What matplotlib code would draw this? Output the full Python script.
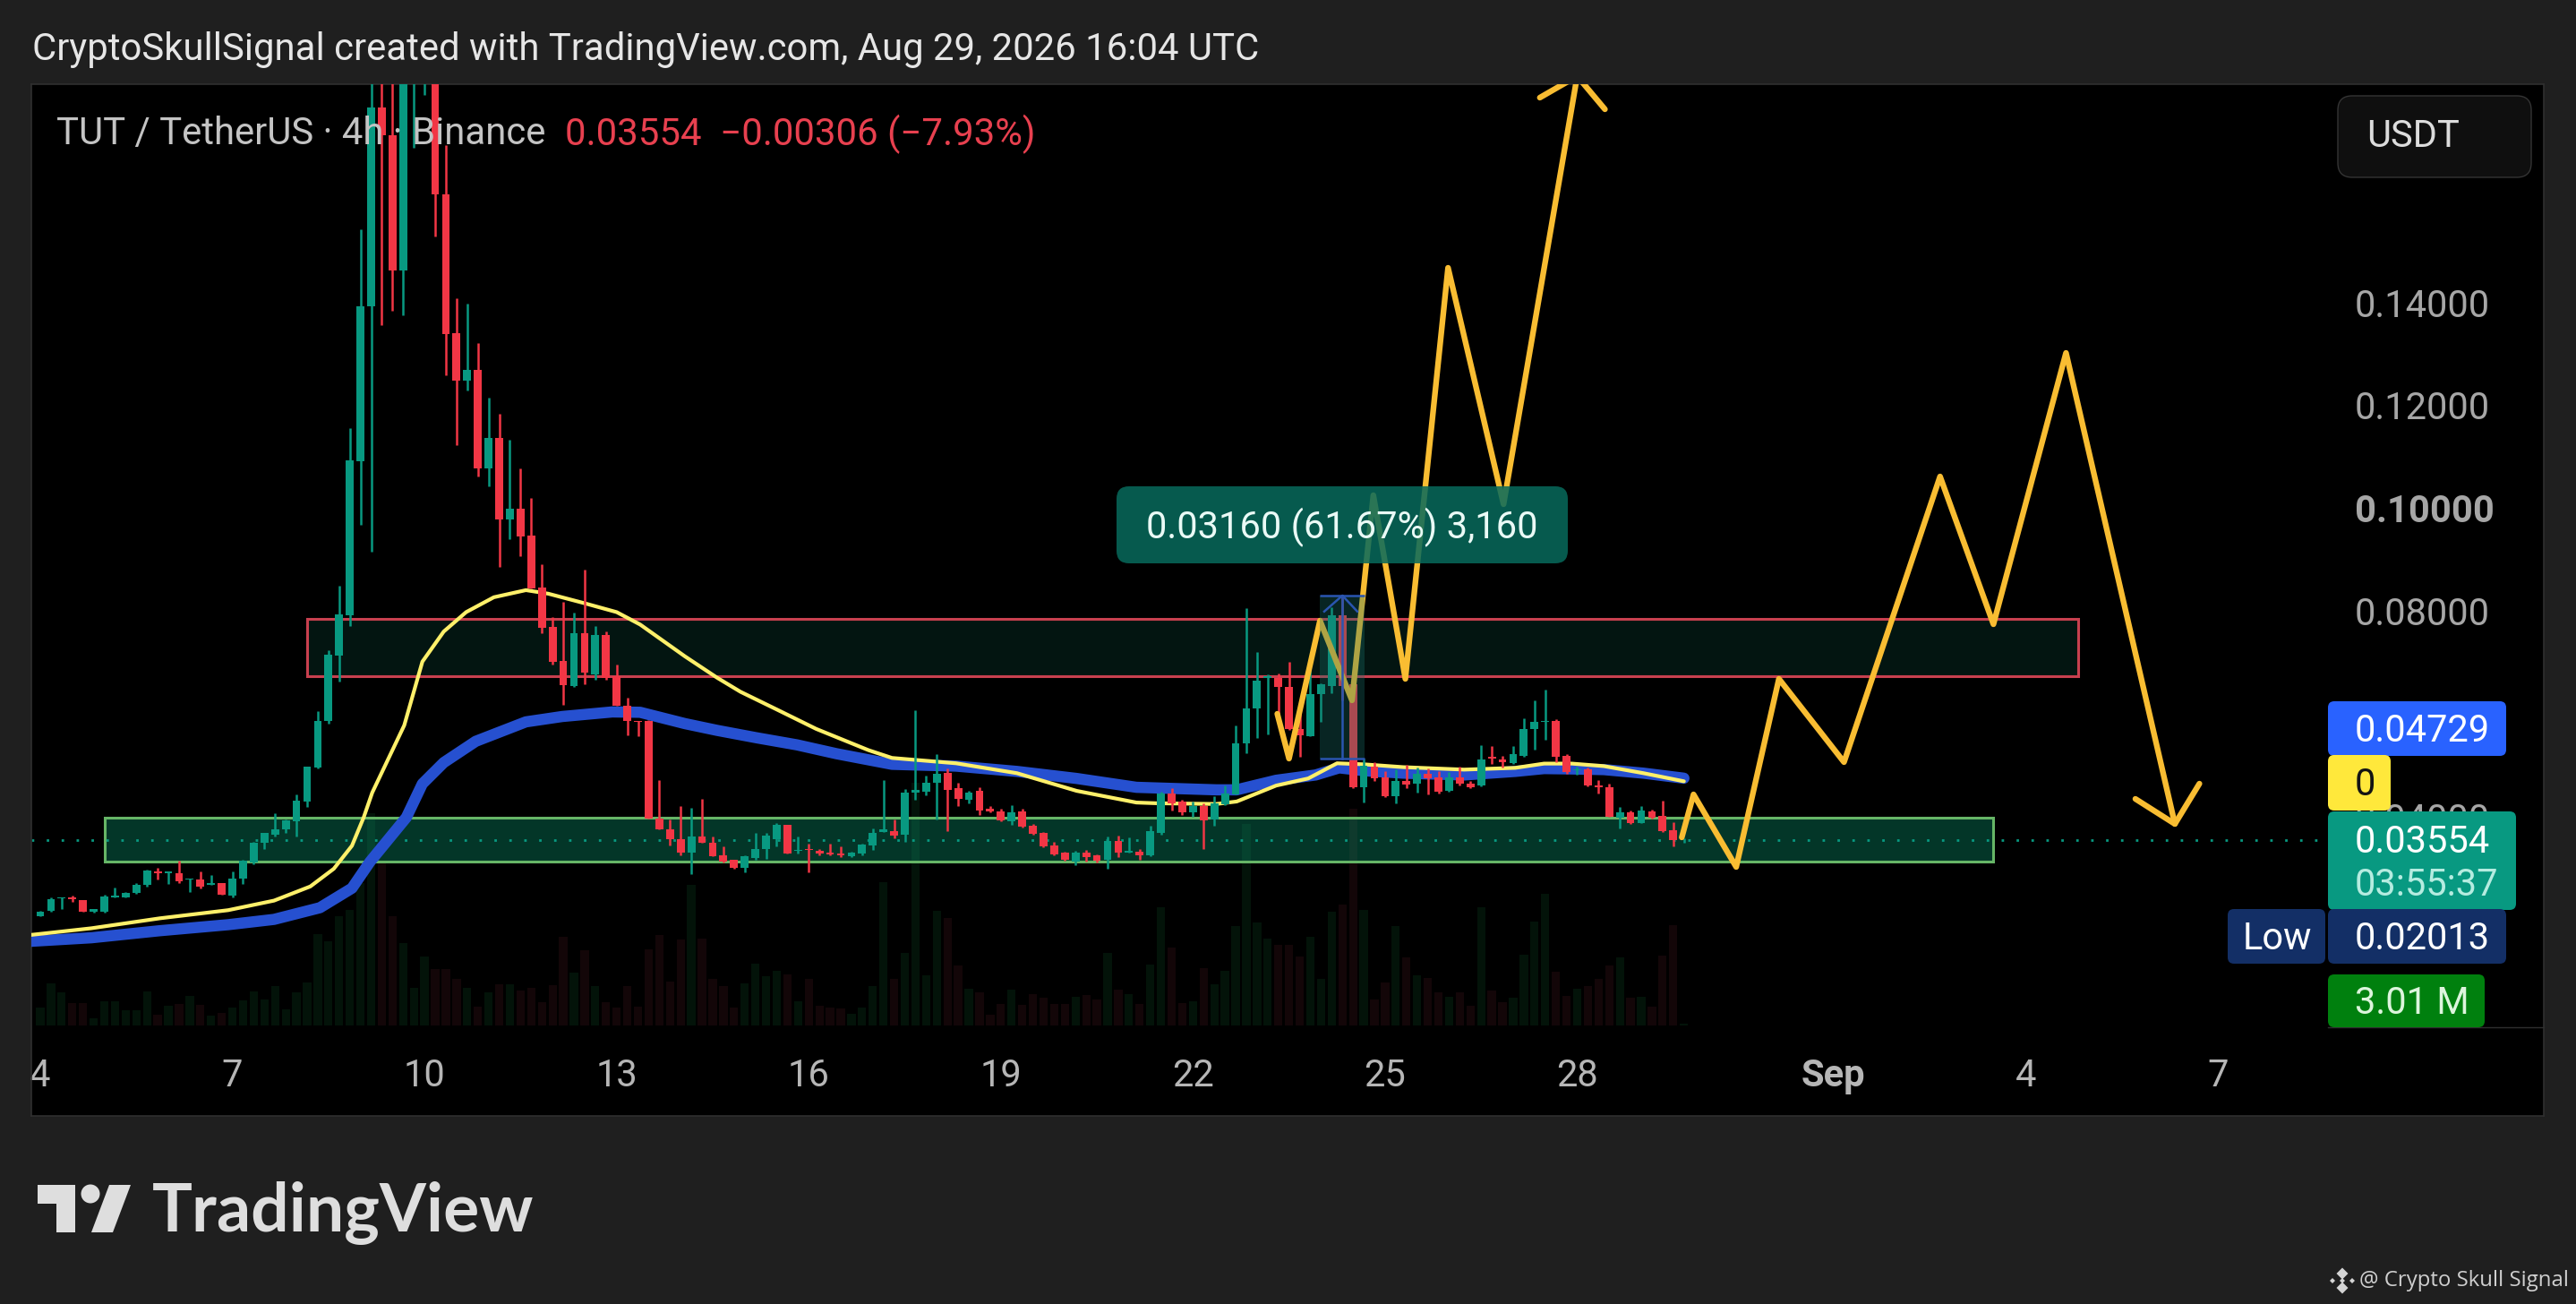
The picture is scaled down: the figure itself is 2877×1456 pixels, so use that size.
import matplotlib

matplotlib.use("Agg")
import matplotlib.pyplot as plt
from matplotlib.patches import Circle, FancyBboxPatch, Polygon, Rectangle
from matplotlib.transforms import Affine2D

plt.rcParams["font.family"] = ["Roboto", "DejaVu Sans"]

WIDTH, HEIGHT = 2877, 1456

opens = [
    .0206, .0218, .0241, .0243, .0238, .0216, .0216, .0243, .0244, .0252,
    .0267, .0294, .0290, .0291, .0278, .0278, .0268, .0271, .0247, .0280,
    .0311, .0349, .0366, .0375, .0392, .0430, .0495, .0587, .0713, .0791,
    .1091, .1392, .1778, .1725, .1461, .1850, .1860, .1900, .1610, .1340,
    .1248, .1268, .1077, .1136, .0978, .0998, .0947, .0846, .0769, .0703,
    .0655, .0757, .0677, .0753, .0673, .0616, .0586, .0586, .0397, .0375,
    .0356, .0330, .0361, .0349, .0325, .0316, .0301, .0320, .0337, .0356,
    .0384, .0333, .0338, .0333, .0330, .0329, .0323, .0328, .0344, .0371,
    .0373, .0366, .0447, .0448, .0466, .0485, .0455, .0433, .0450, .0416,
    .0411, .0392, .0411, .0382, .0368, .0344, .0330, .0313, .0330, .0325,
    .0316, .0353, .0331, .0332, .0325, .0368, .0446, .0429, .0409, .0421,
    .0395, .0425, .0444, .0542, .0611, .0670, .0669, .0652, .0571, .0557,
    .0638, .0655, .0791, .0657, .0457, .0497, .0476, .0440, .0469, .0464,
    .0483, .0477, .0450, .0476, .0465, .0461, .0517, .0511, .0504, .0519,
    .0570, .0585, .0587, .0519, .0490, .0492, .0461, .0457, .0399, .0409,
    .0388, .0411, .0401, .0374, .03540,
]
highs = [
    .0218, .0244, .0243, .0247, .0238, .0220, .0249, .0263, .0254, .0271,
    .0298, .0301, .0294, .0315, .0280, .0294, .0287, .0271, .0294, .0316,
    .0352, .0368, .0407, .0395, .0443, .0497, .0605, .0724, .0849, .1155,
    .1542, .1900, .1900, .1900, .1900, .1950, .2000, .2000, .1706, .1408,
    .1397, .1321, .1214, .1183, .1133, .1077, .1020, .0891, .0788, .0817,
    .0796, .0881, .0770, .0760, .0696, .0631, .0586, .0588, .0471, .0395,
    .0421, .0417, .0435, .0361, .0342, .0316, .0326, .0368, .0368, .0388,
    .0384, .0361, .0347, .0337, .0347, .0342, .0332, .0347, .0377, .0471,
    .0395, .0454, .0607, .0480, .0521, .0494, .0466, .0450, .0457, .0421,
    .0416, .0423, .0416, .0386, .0371, .0351, .0332, .0333, .0335, .0327,
    .0361, .0364, .0360, .0337, .0382, .0449, .0455, .0433, .0430, .0426,
    .0440, .0461, .0578, .0806, .0720, .0676, .0679, .0701, .0609, .0714,
    .0660, .0808, .0832, .0660, .0513, .0506, .0488, .0492, .0501, .0495,
    .0494, .0488, .0487, .0497, .0469, .0540, .0537, .0518, .0537, .0592,
    .0627, .0648, .0589, .0522, .0497, .0495, .0471, .0464, .0419, .0412,
    .0421, .0414, .0431, .0389, .0358,
]
lows = [
    .0206, .0216, .0220, .0234, .0216, .0213, .0214, .0243, .0243, .0251,
    .0265, .0278, .0269, .0271, .0254, .0261, .0268, .0249, .0244, .0269,
    .0308, .0337, .0361, .0368, .0361, .0419, .0494, .0581, .0662, .0770,
    .0967, .0916, .1355, .1384, .1375, .1700, .1803, .1528, .1259, .1122,
    .1228, .1061, .1042, .0886, .0939, .0906, .0843, .0757, .0696, .0618,
    .0653, .0657, .0667, .0666, .0615, .0558, .0556, .0397, .0375, .0345,
    .0326, .0289, .0349, .0323, .0311, .0299, .0292, .0316, .0318, .0342,
    .0329, .0329, .0292, .0325, .0325, .0322, .0322, .0325, .0336, .0371,
    .0359, .0351, .0433, .0441, .0394, .0373, .0421, .0426, .0404, .0409,
    .0392, .0385, .0379, .0366, .0340, .0325, .0315, .0306, .0313, .0312,
    .0299, .0321, .0331, .0316, .0323, .0365, .0413, .0404, .0400, .0337,
    .0382, .0423, .0444, .0524, .0554, .0560, .0588, .0568, .0517, .0556,
    .0585, .0640, .0626, .0455, .0428, .0469, .0439, .0426, .0456, .0447,
    .0443, .0446, .0448, .0461, .0456, .0459, .0502, .0495, .0502, .0517,
    .0530, .0550, .0507, .0484, .0481, .0459, .0446, .0400, .0377, .0386,
    .0387, .0397, .0371, .0342, .0350,
]
closes = [
    .0216, .0239, .0243, .0239, .0216, .0220, .0245, .0246, .0252, .0268,
    .0296, .0290, .0294, .0274, .0280, .0265, .0271, .0249, .0280, .0315,
    .0349, .0368, .0376, .0393, .0432, .0497, .0587, .0715, .0793, .1093,
    .1392, .1778, .1725, .1461, .1900, .1900, .1950, .1610, .1338, .1248,
    .1268, .1077, .1136, .0978, .0999, .0945, .0843, .0767, .0702, .0656,
    .0757, .0680, .0753, .0670, .0616, .0586, .0584, .0397, .0375, .0356,
    .0330, .0361, .0349, .0323, .0313, .0301, .0323, .0337, .0364, .0385,
    .0329, .0335, .0335, .0329, .0327, .0325, .0330, .0346, .0368, .0375,
    .0364, .0447, .0453, .0466, .0483, .0452, .0435, .0447, .0413, .0411,
    .0393, .0409, .0380, .0367, .0342, .0327, .0316, .0330, .0321, .0315,
    .0353, .0330, .0333, .0325, .0372, .0446, .0426, .0409, .0421, .0393,
    .0426, .0446, .0542, .0611, .0665, .0674, .0652, .0570, .0559, .0638,
    .0657, .0791, .0655, .0457, .0499, .0475, .0440, .0469, .0463, .0483,
    .0475, .0449, .0476, .0464, .0458, .0512, .0513, .0507, .0521, .0571,
    .0585, .0587, .0517, .0487, .0492, .0461, .0458, .0400, .0409, .0388,
    .0412, .0399, .0372, .0354, .03554,
]
# volume in millions
volumes = [
    25, 59, 46.5, 31.5, 31.5, 10, 34, 34, 21.5, 21.5,
    48, 15, 28, 30, 41.5, 29, 14, 17.5, 25, 35,
    47.5, 36.5, 55, 22.5, 46.5, 60, 128, 118, 153, 161.5,
    199, 296.5, 229, 153, 115, 53, 96.5, 79, 79, 65,
    53, 26.5, 46.5, 58, 58, 49, 53, 33, 56.5, 124,
    74, 105, 55, 33, 25, 55, 26.5, 106.5, 126.5, 61.5,
    120, 196.5, 121.5, 65, 55, 25, 59, 86.5, 69, 76.5,
    71.5, 34, 65, 28, 25, 24, 16.5, 25, 55, 200,
    65, 101.5, 339, 70, 160, 150, 84, 51.5, 46.5, 15,
    30, 50, 29, 44, 39, 30, 30, 40, 43, 36.5,
    101.5, 50, 44, 30, 85, 165, 109, 31.5, 34, 80,
    58, 76.5, 139, 281.5, 144, 121.5, 113, 113, 96.5, 124,
    65, 159, 169, 303, 161.5, 36.5, 60, 139, 95, 70,
    66.5, 46.5, 40, 46.5, 28, 165, 49, 33, 39, 99,
    145, 184, 75, 41.5, 51.5, 55, 65, 84, 95, 39,
    40, 26.5, 98, 140, 3,
]

slow_x = [
    -0.9, 4.8, 11.2, 17.6, 21.9, 26.2, 29.2, 30.9, 34.3, 35.8, 37.8, 40.8, 45.5, 48.9,
    53.6, 56.2, 60.4, 63.4, 67.1, 70.9, 74.6, 79.8, 85.8, 91.5, 97.1, 102.7, 110.2,
    112.1, 115.8, 119.5, 121.7, 124, 127.7, 133.4, 138.2, 140.9, 143.5, 146.5, 150.2, 154,
]
slow_ma = [
    .01580, .01649, .01786, .01903, .02006, .02233, .02612, .03128, .03988, .04641,
    .05054, .05467, .05845, .05949, .06038, .06031, .05811, .05680, .05536, .05398,
    .05226, .05020, .04985, .04882, .04745, .04573, .04524, .04524, .04710, .04813,
    .04951, .04896, .04848, .04813, .04882, .04937, .04930, .04917, .04848, .04750,
]
fast_x = [
    -0.9, 4.8, 11.2, 17.6, 21.9, 25.3, 27.5, 29.2, 30.3, 31.1, 34.1, 35.8, 37.8, 39.9,
    42.5, 45.5, 47.6, 51.0, 54.0, 56.2, 60.4, 63.4, 65.6, 69.0, 72.7, 77.6, 79.8, 85.8,
    91.5, 97.1, 102.7, 104.6, 110.2, 112.1, 115.8, 118.8, 121.5, 124, 127.7, 133.4,
    138.2, 140.9, 143.5, 146.5, 150.2, 154,
]
fast_ma = [
    .01704, .01834, .02027, .02185, .02371, .02646, .02990, .03437, .03988, .04469,
    .05777, .07015, .07600, .07978, .08267, .08405, .08336, .08150, .07978, .07737,
    .07118, .06705, .06430, .06086, .05708, .05295, .05144, .05040, .04848, .04504,
    .04277, .04263, .04249, .04297, .04607, .04745, .05040, .05020, .04965, .04917,
    .04951, .05034, .05034, .04985, .04848, .04690,
]

# drawn zigzag projections, (bar, price)
path_a_x = [115.9, 117.0, 119.9, 122.9, 124.9, 127.9, 131.9, 137.1, 144.0]
path_a_y = [.06002, .05131, .07812, .06263, .10249, .06681, .14670, .10075, .18395]
head_a_x = [140.5, 144.0, 146.6]
head_a_y = [.17977, .18395, .17751]
path_b_x = [153.8, 154.9, 158.9, 162.9, 169.0, 178.0, 183.0, 189.8, 200.0]
path_b_y = [.03600, .04435, .03025, .06681, .05062, .10614, .07742, .13016, .03861]
head_b_x = [196.3, 200.0, 202.3]
head_b_y = [.04348, .03861, .04644]

# (left bar, right bar, bottom, top)
resistance_zone = (25.0, 190.9, .06726, .07840)
support_zone = (6.0, 183.0, .03130, .03988)
position_box = (119.9, 124.1, .0514, .0830)
position_arrow_x = 122.0
last_price = 0.03554

date_ticks = [0, 18, 36, 54, 72, 90, 108, 126, 144, 168, 186, 204]
date_labels = ["4", "7", "10", "13", "16", "19", "22", "25", "28", "Sep", "4", "7"]
price_ticks = [0.04, 0.06, 0.08, 0.10, 0.12, 0.14]
price_labels = ["0.04000", "0.06000", "0.08000", "0.10000", "0.12000", "0.14000"]

GREEN = "#089981"
RED = "#f23645"
VOL_GREEN = "#031309"
VOL_RED = "#130608"
BG = "#1f1f1f"
ORANGE = "#f9bd32"
TEXT_SIZE = 30

fig = plt.figure(figsize=(WIDTH / 100, HEIGHT / 100), dpi=100, facecolor=BG)
px = Affine2D().scale(1 / WIDTH, -1 / HEIGHT).translate(0, 1) + fig.transFigure

PANE = (35, 94, 2841, 1246)
rect = [PANE[0] / WIDTH, 1 - PANE[3] / HEIGHT, (PANE[2] - PANE[0]) / WIDTH, (PANE[3] - PANE[1]) / HEIGHT]
bar_px = 11.92
x_limits = ((PANE[0] - 45) / bar_px, (PANE[2] - 45) / bar_px)

ax_vol = fig.add_axes(rect, zorder=0, facecolor="black")
ax_vol.set_xlim(x_limits)
ax_vol.set_ylim((1145 - PANE[3]) * 1.25, (1145 - PANE[1]) * 1.25)
ax_vol.set_xticks([])
ax_vol.set_yticks([])
for spine in ax_vol.spines.values():
    spine.set_visible(False)

bars = range(len(opens))
up = [c >= o for o, c in zip(opens, closes)]
ax_vol.bar(bars, volumes, width=0.78, color=[VOL_GREEN if u else VOL_RED for u in up])

ax = fig.add_axes(rect, zorder=1)
ax.patch.set_visible(False)
ax.set_xlim(x_limits)
ax.set_ylim(0.04 - (PANE[3] - 912) / 5745, 0.04 + (912 - PANE[1]) / 5745)

# zones sit under the candles
left, right, low, high = resistance_zone
ax.add_patch(Rectangle((left, low), right - left, high - low, facecolor="#031511",
                       edgecolor="#c8404f", lw=2.2, zorder=1))
left, right, low, high = support_zone
ax.add_patch(Rectangle((left, low), right - left, high - low, facecolor=(0.04, 0.56, 0.42, 0.38),
                       edgecolor="#66b566", lw=2.2, zorder=1))

ax.plot(x_limits[0:1] + (214.3,), [last_price] * 2, color=GREEN, lw=2, ls=(0, (1, 5)), zorder=2)
ax.plot(slow_x, slow_ma, color="#2650d0", lw=9, solid_capstyle="round", solid_joinstyle="round", zorder=3)
ax.plot(fast_x, fast_ma, color="#fff06a", lw=3, solid_capstyle="round", zorder=3.1)

colors = [GREEN if u else RED for u in up]
ax.vlines(bars, lows, highs, colors=colors, lw=1.8, zorder=4)
ax.bar(bars, [abs(c - o) for o, c in zip(opens, closes)], bottom=[min(o, c) for o, c in zip(opens, closes)],
       width=0.74, color=colors, zorder=4)

for xs, ys in ((path_a_x, path_a_y), (head_a_x, head_a_y), (path_b_x, path_b_y), (head_b_x, head_b_y)):
    ax.plot(xs, ys, color=ORANGE, lw=4.6, solid_capstyle="round", solid_joinstyle="round", zorder=5)

left, right, low, high = position_box
ax.add_patch(Rectangle((left, low), right - left, high - low, facecolor=(0.10, 0.45, 0.42, 0.33),
                       edgecolor="none", zorder=6))
ax.hlines([low, high], left, right, colors="#2a55b0", lw=1.8, zorder=6)
ax.plot([position_arrow_x, position_arrow_x], [low, high], color="#2a55b0", lw=1.8, zorder=6)
ax.plot([left + 0.4, position_arrow_x, right - 0.7], [high - .0031, high, high - .0031], color="#2a55b0", lw=1.8, zorder=6)

ax.set_xticks(date_ticks, date_labels)
ax.yaxis.tick_right()
ax.set_yticks(price_ticks, price_labels)
ax.tick_params(axis="x", length=0, pad=-32, labelsize=TEXT_SIZE, labelcolor="#b6b6b6")
ax.tick_params(axis="y", length=0, pad=-152, labelsize=TEXT_SIZE, labelcolor="#a6a6a6")
for tick in ax.get_xticklabels():
    tick.set_va("center")
    if tick.get_text() == "Sep":
        tick.set_fontweight("bold")
for tick in ax.get_yticklabels():
    if tick.get_text() == "0.10000":
        tick.set_fontweight("bold")
for spine in ax.spines.values():
    spine.set_color("#2f2f2f")
    spine.set_linewidth(1.2)


def badge(x0, y0, x1, y1, color, alpha=1.0, radius=7, edge="none"):
    fig.add_artist(FancyBboxPatch((x0, y0), x1 - x0, y1 - y0, boxstyle=f"round,pad=0,rounding_size={radius}",
                                  facecolor=color, edgecolor=edge, alpha=alpha, transform=px, zorder=10))


def label(x, y, text, color="white", size=TEXT_SIZE, ha="left", **kwargs):
    fig.text(x, y + 3, text, color=color, fontsize=size, ha=ha, va="center", transform=px, zorder=11, **kwargs)


# price scale badges
badge(2600, 783, 2799, 844, "#2962ff")
label(2630, 814, "0.04729")
badge(2600, 843, 2670, 905, "#ffe83b")
label(2630, 874, "0", color="#131313")
badge(2600, 906, 2810, 1016, "#089981")
label(2630, 937, "0.03554")
label(2630, 986, "03:55:37", color="#b5ece0")
badge(2488, 1015, 2597, 1076, "#132f66")
label(2543, 1046, "Low", ha="center")
badge(2600, 1015, 2799, 1076, "#132f66")
label(2630, 1046, "0.02013")
badge(2600, 1088, 2775, 1147, "#00800e")
label(2630, 1118, "3.01 M", color="#dcf5dc")
fig.add_artist(plt.Line2D([2600, 2841], [1147, 1147], color="#2f2f2f", lw=1, transform=px, zorder=9))

# measure bubble
badge(1247, 543, 1751, 629, "#086a5c", alpha=0.86, radius=14)
label(1499, 586, "0.03160 (61.67%) 3,160", color="#eafaf6", ha="center")

# unit button
badge(2611, 107, 2827, 198, "#0f0f0f", radius=16, edge="#343434")
label(2643, 150, "USDT", color="#dcdcdc")

# headers
label(36, 53, "CryptoSkullSignal created with TradingView.com, Aug 29, 2026 16:04 UTC", color="#e6e6e6", size=30.2)
label(63, 147, "TUT / TetherUS · 4h · Binance", color="#c4c4c4", size=30.2)
label(631, 147, "0.03554  −0.00306 (−7.93%)", color="#e8404f", size=30.2)

# TradingView mark and wordmark
LOGO = "#dedede"
fig.add_artist(Polygon([(42, 1323), (84, 1323), (84, 1376), (63, 1376), (63, 1344), (42, 1344)],
                       facecolor=LOGO, transform=px, zorder=10))
fig.add_artist(Circle((101, 1333), 10.5, facecolor=LOGO, transform=px, zorder=10))
fig.add_artist(Polygon([(122, 1323), (146, 1323), (126, 1376), (102, 1376)], facecolor=LOGO, transform=px, zorder=10))
label(170, 1351, "TradingView", color=LOGO, size=54, family="Lato", fontweight="bold")

# watermark
for cx, cy, r in ((2616, 1422, 6.5), (2616, 1438, 6.5), (2605, 1430, 3), (2627, 1430, 3), (2616, 1430, 3)):
    fig.add_artist(Polygon([(cx, cy - r), (cx + r, cy), (cx, cy + r), (cx - r, cy)], facecolor="#d4d4d4", transform=px, zorder=10))
label(2635, 1427, "@ Crypto Skull Signal", color="#cfcfcf", size=17.3, family="Open Sans")

fig.savefig("out.png", dpi=100, facecolor=BG)
